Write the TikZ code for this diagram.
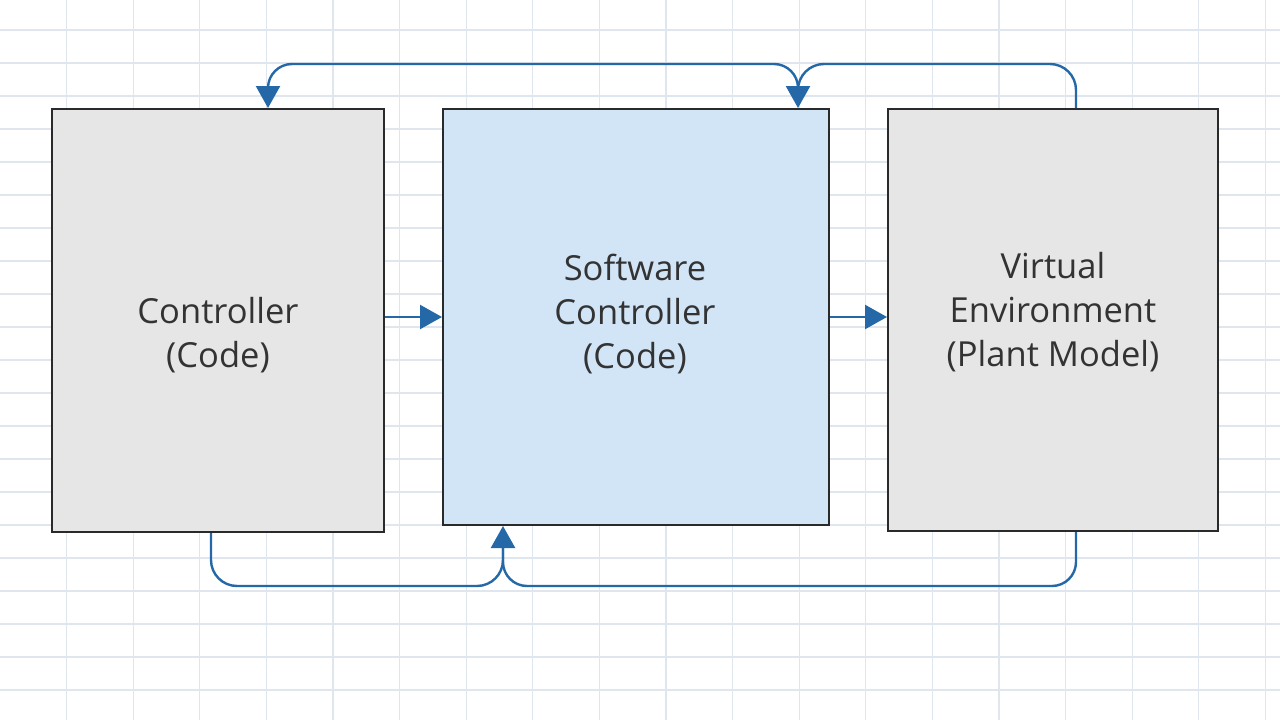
\documentclass[tikz,border=0pt]{standalone}
\usepackage{fontspec}
\setmainfont{Open Sans}
\usetikzlibrary{arrows.meta,calc}
\definecolor{gridc}{HTML}{E0E6EE}
\definecolor{boxgray}{HTML}{E6E6E6}
\definecolor{boxblue}{HTML}{D2E5F7}
\definecolor{edgec}{HTML}{2A2A2A}
\definecolor{flowc}{HTML}{2468A8}
\definecolor{textc}{HTML}{333333}
\tikzset{
  gridline/.style={draw=gridc, line width=1.3pt},
  box/.style={draw=edgec, line width=2pt, rectangle, inner sep=0pt},
  graybox/.style={box, fill=boxgray},
  bluebox/.style={box, fill=boxblue},
  label text/.style={text=textc, align=center, font=\fontsize{34.5}{44}\selectfont, inner sep=0pt},
  flow/.style={draw=flowc, line width=2.4pt, -{Triangle[length=22pt,width=24pt]}},
  flowplain/.style={draw=flowc, line width=2.4pt},
}
\begin{document}
\begin{tikzpicture}[x=1pt,y=-1pt]
  \useasboundingbox (0,0) rectangle (1280,720);
  \fill[white] (0,0) rectangle (1280,720);
  % grid
  \foreach \k in {1,...,19} {\draw[gridline] ({66.6*\k},0) -- ({66.6*\k},720);}
  \foreach \k in {0,...,20} {\draw[gridline] (0,{30+33*\k}) -- (1280,{30+33*\k});}
  % boxes
  \node[graybox, minimum width=332pt, minimum height=423pt] (c) at (218,320.5) {};
  \node[bluebox, minimum width=386pt, minimum height=416pt] (s) at (636,317) {};
  \node[graybox, minimum width=330pt, minimum height=422pt] (v) at (1053,320) {};
  % texts
  \node[label text] (ctext) at (218,335) {Controller\\(Code)};
  \node[label text] (stext) at (635,314) {Software\\Controller\\(Code)};
  \node[label text] (vtext) at (1053,312) {Virtual\\Environment\\(Plant Model)};
  % anchor points on box edges
  \coordinate (ctop) at ([xshift=50pt]c.north);
  \coordinate (stop) at ([xshift=162pt]s.north);
  \coordinate (vtop) at ([xshift=23pt]v.north);
  \coordinate (cbot) at ([xshift=-7pt]c.south);
  \coordinate (sbot) at ([xshift=-133pt]s.south);
  \coordinate (vbot) at ([xshift=23pt]v.south);
  % forward arrows
  \draw[flow] (c.east |- s.west) -- (s.west);
  \draw[flow] (s.east) -- (s.east -| v.west);
  % top feedback
  \draw[flow, rounded corners=26pt] (vtop) -- ++(0,-44) -| (stop);
  \draw[flow, rounded corners=24pt] ($(stop)+(0,-12)$) -- ($(stop)+(0,-44)$) -| (ctop);
  % bottom feedback
  \draw[flow, rounded corners=26pt] (cbot) -- ++(0,53) -| (sbot);
  \draw[flowplain, rounded corners=24pt] (vbot) |- ($(sbot)+(0,60)$) -- ($(sbot)+(0,22)$);
\end{tikzpicture}
\end{document}
